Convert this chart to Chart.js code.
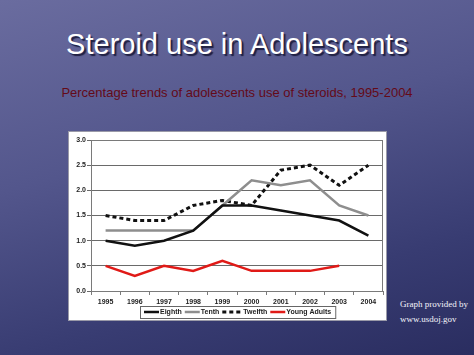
<!DOCTYPE html>
<html>
<head>
<meta charset="utf-8">
<script src="https://cdn.jsdelivr.net/npm/chart.js@4/dist/chart.umd.min.js"></script>
<style>
  html, body { margin: 0; padding: 0; }
  body {
    width: 474px; height: 355px; overflow: hidden; position: relative;
    background: linear-gradient(165deg, #6a6c9f 0%, #53568c 40%, #383c72 75%, #2a2d60 100%);
    font-family: "Liberation Sans", Arial, sans-serif;
  }
  #title {
    position: absolute; left: 0; width: 474px; top: 26px; text-align: center;
    font-size: 29px; color: #ffffff; line-height: 36px;
    text-shadow: 2px 2px 1px rgba(20,20,50,0.85);
  }
  #subtitle {
    position: absolute; left: 0; width: 474px; top: 85px; text-align: center;
    font-size: 13px; color: #640a18; line-height: 16px;
  }
  #box {
    position: absolute; left: 69px; top: 132px; width: 317px; height: 188px;
    background: #ffffff; box-shadow: 0 0 0 1px #9a9aa8;
  }
  #credit {
    position: absolute; left: 400px; top: 297px; color: #f4f4fa;
    font-family: "Liberation Serif", "DejaVu Serif", serif; font-size: 9px; line-height: 15px;
  }
</style>
</head>
<body>
<div id="title">Steroid use in Adolescents</div>
<div id="subtitle">Percentage trends of adolescents use of steroids, 1995-2004</div>
<div id="box"><canvas id="c" width="317" height="188"></canvas></div>
<div id="credit">Graph provided by<br>www.usdoj.gov</div>
<script>
const years = ["1995","1996","1997","1998","1999","2000","2001","2002","2003","2004"];
const eighth = [1.0, 0.9, 1.0, 1.2, 1.7, 1.7, 1.6, 1.5, 1.4, 1.1];
const tenth = [1.2, 1.2, 1.2, 1.2, 1.7, 2.2, 2.1, 2.2, 1.7, 1.5];
const twelfth = [1.5, 1.4, 1.4, 1.7, 1.8, 1.7, 2.4, 2.5, 2.1, 2.5];
const youngAdults = [0.5, 0.3, 0.5, 0.4, 0.6, 0.4, 0.4, 0.4, 0.5, null];
const seriesNames = ["Eighth", "Tenth", "Twelfth", "Young Adults"];

const tickFont = { family: "Liberation Sans, Arial, sans-serif", size: 7, weight: "bold" };

const frame = {
  id: "frame",
  beforeDatasetsDraw(chart) {
    const { ctx, chartArea: a } = chart;
    ctx.save();
    ctx.strokeStyle = "#7a7a7a";
    ctx.lineWidth = 1;
    ctx.strokeRect(a.left + 0.5, a.top + 0.5, a.right - a.left - 1, a.bottom - a.top);
    ctx.restore();
  },
  afterDraw(chart) {
    const ctx = chart.ctx;
    ctx.save();
    ctx.font = "bold 7px 'Liberation Sans', Arial, sans-serif";
    ctx.textBaseline = "middle";
    const gapT = 1, gapI = 3;
    const items = chart.data.datasets.map(ds => ({
      ds, w: ctx.measureText(ds.label).width, s: ds.borderDash ? 18 : 15, g: ds.borderDash ? 3 : gapT
    }));
    let total = 0;
    items.forEach((it, i) => { total += it.s + it.g + it.w + (i < items.length - 1 ? gapI : 0); });
    const cx = 169, y = 180;
    const boxW = total + 8;
    const bx = Math.round(cx - boxW / 2);
    ctx.strokeStyle = "#666";
    ctx.lineWidth = 1;
    ctx.strokeRect(bx + 0.5, 174.5, boxW, 12);
    let x = bx + 4;
    items.forEach(it => {
      ctx.beginPath();
      ctx.strokeStyle = it.ds.borderColor;
      ctx.lineWidth = it.ds.borderWidth;
      ctx.setLineDash(it.ds.borderDash || []);
      ctx.moveTo(x, y);
      ctx.lineTo(x + it.s, y);
      ctx.stroke();
      ctx.setLineDash([]);
      x += it.s + it.g;
      ctx.fillStyle = "#222";
      ctx.fillText(it.ds.label, x, y + 0.5);
      x += it.w + gapI;
    });
    ctx.restore();
  }
};

new Chart(document.getElementById("c"), {
  type: "line",
  data: {
    labels: years,
    datasets: [
      { label: seriesNames[0], data: eighth, borderColor: "#111111", borderWidth: 2.5 },
      { label: seriesNames[1], data: tenth, borderColor: "#8e8e8e", borderWidth: 2.5 },
      { label: seriesNames[2], data: twelfth, borderColor: "#111111", borderWidth: 3, borderDash: [4, 3] },
      { label: seriesNames[3], data: youngAdults, borderColor: "#e01a17", borderWidth: 2.5 }
    ]
  },
  options: {
    responsive: false,
    animation: false,
    layout: { padding: { left: 0, right: 3, top: 8, bottom: 0 } },
    elements: { point: { radius: 0 }, line: { tension: 0, borderCapStyle: "butt" } },
    plugins: { legend: { display: false }, tooltip: { enabled: false } },
    scales: {
      x: {
        offset: true,
        grid: { display: true, drawOnChartArea: false, offset: true, color: "#7a7a7a", tickLength: 4 },
        border: { display: false },
        ticks: { font: tickFont, color: "#222", padding: 3, maxRotation: 0, autoSkip: false },
        afterFit(s) { s.height = 29; }
      },
      y: {
        min: 0, max: 3,
        grid: { color: "#6a6a6a", tickLength: 4 },
        border: { display: false },
        ticks: { stepSize: 0.5, font: tickFont, color: "#222", padding: 1,
                 callback: v => Number(v).toFixed(1) },
        afterFit(s) { s.width = 22; }
      }
    }
  },
  plugins: [frame]
});
</script>
</body>
</html>
